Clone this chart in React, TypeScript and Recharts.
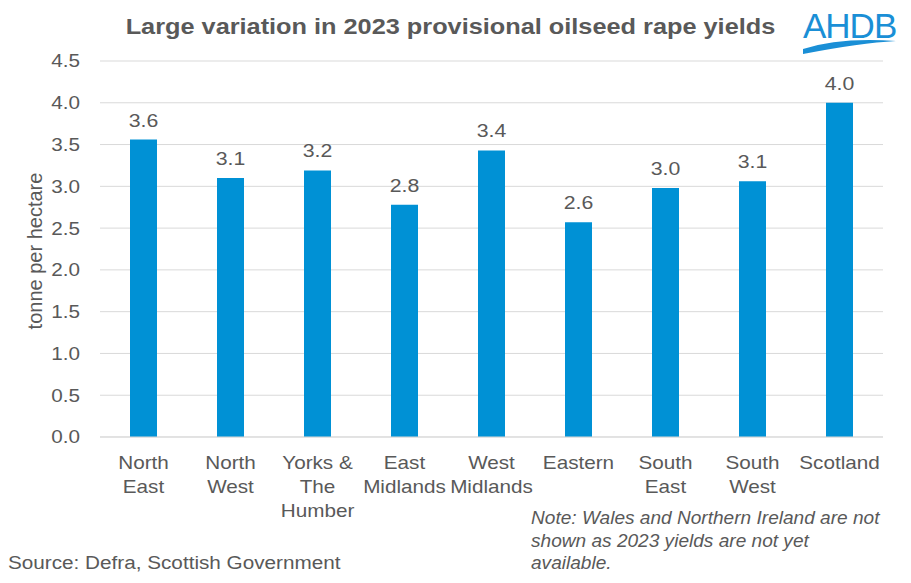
import React from "react";
import { BarChart, Bar, XAxis, YAxis, CartesianGrid, LabelList } from "recharts";

const categories = [
  "North\nEast",
  "North\nWest",
  "Yorks &\nThe\nHumber",
  "East\nMidlands",
  "West\nMidlands",
  "Eastern",
  "South\nEast",
  "South\nWest",
  "Scotland",
];
const yields = [3.56, 3.1, 3.19, 2.78, 3.43, 2.57, 2.98, 3.06, 4.0];
const yTicks = [0, 0.5, 1, 1.5, 2, 2.5, 3, 3.5, 4, 4.5];

const data = categories.map((c, i) => ({ region: c, value: yields[i] }));

const GREY = "#595959";
const BLUE = "#0091D5";
const FONT = "'Liberation Sans', Arial, sans-serif";
const SX = 1.15;

const XTick = (props: any) => {
  const { x, y, payload } = props;
  const lines = String(payload.value).split("\n");
  return (
    <g transform={`translate(${x},${y}) scale(${SX},1)`}>
      <text x={0} y={0} textAnchor="middle" fill={GREY} fontSize={18} fontFamily={FONT}>
        {lines.map((l: string, i: number) => (
          <tspan key={i} x={0} dy={i === 0 ? 32 : 24}>
            {l}
          </tspan>
        ))}
      </text>
    </g>
  );
};

const YTick = (props: any) => {
  const { x, y, payload } = props;
  return (
    <g transform={`translate(${x},${y}) scale(${SX},1)`}>
      <text x={0} y={0} dy="0.36em" textAnchor="end" fill={GREY} fontSize={18} fontFamily={FONT}>
        {Number(payload.value).toFixed(1)}
      </text>
    </g>
  );
};

const BarValue = (props: any) => {
  const { x, y, width, value } = props;
  return (
    <g transform={`translate(${Number(x) + Number(width) / 2},${Number(y) - 13}) scale(${SX},1)`}>
      <text x={0} y={0} textAnchor="middle" fill={GREY} fontSize={18.5} fontFamily={FONT}>
        {Number(value).toFixed(1)}
      </text>
    </g>
  );
};

const stretch = (origin: string, s: number = SX): React.CSSProperties => ({
  display: "inline-block",
  transform: `scaleX(${s})`,
  transformOrigin: origin,
  whiteSpace: "nowrap",
});

export default function App() {
  return (
    <div style={{ position: "absolute", left: 0, top: 0, width: 911, height: 583, background: "#fff", fontFamily: FONT }}>
      <div
        style={{
          position: "absolute",
          left: 0,
          width: 900,
          top: 14,
          textAlign: "center",
          fontWeight: "bold",
          fontSize: 22,
          lineHeight: "26px",
          color: GREY,
        }}
      >
        <span style={stretch("center")}>Large variation in 2023 provisional oilseed rape yields</span>
      </div>
      <svg style={{ position: "absolute", left: 800, top: 6 }} width={100} height={48}>
        <text x={3} y={32} fill="#1A8FD6" fontSize={35} fontFamily={FONT} letterSpacing={-1}>
          AHDB
        </text>
        <path d="M3 43 Q40 31 96 35 Q60 37 3 48 Z" fill="#1A8FD6" />
      </svg>
      <div
        style={{
          position: "absolute",
          left: 35,
          top: 251,
          transform: "translate(-50%, -50%) rotate(-90deg)",
          whiteSpace: "nowrap",
          fontSize: 20,
          color: GREY,
        }}
      >
        tonne per hectare
      </div>
      <BarChart
        width={911}
        height={583}
        data={data}
        margin={{ top: 61, right: 28, bottom: 116, left: 0 }}
      >
        <CartesianGrid vertical={false} stroke="#D9D9D9" />
        <XAxis
          dataKey="region"
          tick={<XTick />}
          tickLine={false}
          tickSize={0}
          tickMargin={0}
          axisLine={{ stroke: "#D9D9D9" }}
          interval={0}
          height={30}
        />
        <YAxis
          width={100}
          domain={[0, 4.5]}
          ticks={yTicks}
          tick={<YTick />}
          tickLine={false}
          axisLine={false}
          tickSize={0}
          tickMargin={20}
        />
        <Bar dataKey="value" fill={BLUE} barSize={27} isAnimationActive={false}>
          <LabelList dataKey="value" content={<BarValue />} />
        </Bar>
      </BarChart>
      <div
        style={{
          position: "absolute",
          left: 531,
          top: 507,
          fontSize: 17.5,
          lineHeight: "22.5px",
          fontStyle: "italic",
          color: GREY,
        }}
      >
        <div style={stretch("left", 1.09)}>Note: Wales and Northern Ireland are not</div>
        <br />
        <div style={{ ...stretch("left", 1.09), marginTop: -22.5 }}>shown as 2023 yields are not yet</div>
        <br />
        <div style={{ ...stretch("left", 1.09), marginTop: -22.5 }}>available.</div>
      </div>
      <div style={{ position: "absolute", left: 8, top: 551, fontSize: 18, lineHeight: "24px", color: GREY }}>
        <span style={stretch("left")}>Source: Defra, Scottish Government</span>
      </div>
    </div>
  );
}
